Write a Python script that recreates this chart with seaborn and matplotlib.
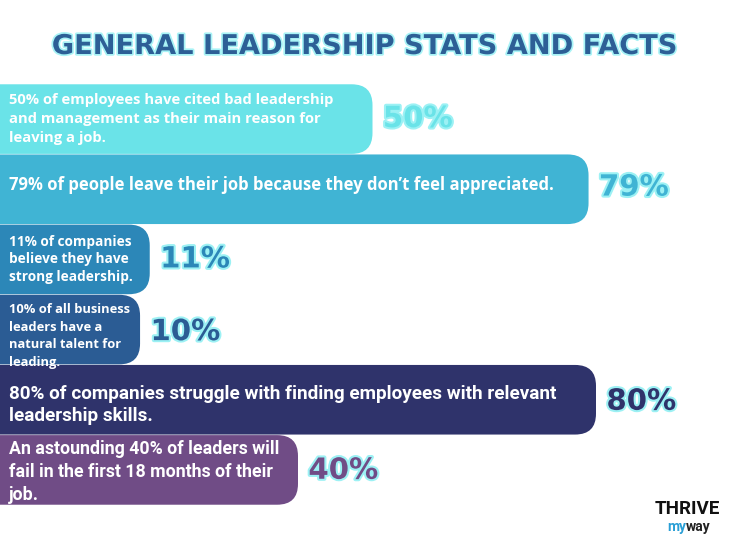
"""Leadership stats infographic: rounded horizontal bars with captions."""

import matplotlib
matplotlib.use("Agg")
import matplotlib.pyplot as plt
import matplotlib.patheffects as pe
from matplotlib.patches import FancyBboxPatch
import seaborn as sns

categories = ["bad_mgmt", "not_appreciated", "strong_leaders", "natural_talent",
              "skills_gap", "fail_18m"]
values = [50, 79, 11, 10, 80, 40]
# visible bar length (in % units) as drawn in the picture; short bars padded to fit text
bar_length = [50, 79, 20.1, 18.8, 80, 40]
captions = [
    "50% of employees have cited bad leadership\nand management as their main reason for\nleaving a job.",
    "79% of people leave their job because they don\u2019t feel appreciated.",
    "11% of companies\nbelieve they have\nstrong leadership.",
    "10% of all business\nleaders have a\nnatural talent for\nleading.",
    "80% of companies struggle with finding employees with relevant\nleadership skills.",
    "An astounding 40% of leaders will\nfail in the first 18 months of their\njob.",
]
colors = ["#6ae3e8", "#40b4d4", "#2c87b8", "#2b5c94", "#2f336b", "#704c86"]

W, H = 730, 536
fig = plt.figure(figsize=(W / 100, H / 100), dpi=100)
fig.patch.set_facecolor("white")
ax = fig.add_axes([0, (H - 505) / H, 1, (505 - 84) / H])

sns.barplot(x=bar_length, y=categories, hue=categories, palette=colors,
            orient="h", width=1.0, saturation=1, legend=False, ax=ax)

px_per_x = 7.45
ax.set_xlim(0, W / px_per_x)
ax.set_ylim(5.5, -0.5)
ax.axis("off")

# swap the plain bars for ones with rounded right ends
row_px = (505 - 84) / 6
aspect = px_per_x / row_px
for p in list(ax.patches):
    x0, y0 = p.get_x(), p.get_y()
    w, h = p.get_width(), p.get_height()
    fc = p.get_facecolor()
    p.remove()
    ax.add_patch(FancyBboxPatch((x0 - 6, y0 + 0.004), w + 6, h - 0.008,
                                boxstyle="round,pad=0,rounding_size=2.8",
                                mutation_aspect=aspect, facecolor=fc,
                                edgecolor="none"))

narrow = ["Liberation Sans Narrow", "Roboto"]
text_style = [
    dict(fontsize=10.6, family="Open Sans", linespacing=1.45),
    dict(fontsize=12.0, family="Open Sans", linespacing=1.45),
    dict(fontsize=9.8, family="Open Sans", linespacing=1.3),
    dict(fontsize=9.3, family="Open Sans", linespacing=1.45),
    dict(fontsize=13.6, family=narrow, linespacing=1.3),
    dict(fontsize=12.8, family=narrow, linespacing=1.35),
]
y_shift = [0, -0.06, 0, 0.09, 0.07, 0.03]
for i, (cap, val, ln) in enumerate(zip(captions, values, bar_length)):
    ax.text(1.2, i + y_shift[i], cap, color="white", fontweight="bold",
            ha="left", va="center", **text_style[i])
    ax.text(ln + 1.4, i + y_shift[i] * 0.4, f"{val}%", color=colors[i],
            fontsize=21, fontweight="bold", family="DejaVu Sans",
            ha="left", va="center",
            path_effects=[pe.withStroke(linewidth=3, foreground="#9cf1f4")])

fig.text(0.5, 1 - 47 / H, "GENERAL LEADERSHIP STATS AND FACTS",
         ha="center", va="center", fontsize=19.6, fontweight="bold",
         family="DejaVu Sans", color="#2d5f96",
         path_effects=[pe.withStroke(linewidth=2.5, foreground="#a8f3f6")])

# logo
fig.text(687 / W, 1 - 509 / H, "THRIVE", ha="center", va="center",
         fontsize=13.5, fontweight="bold", family=narrow, color="#111111")
fig.text(686 / W, 1 - 527 / H, "my", ha="right", va="center",
         fontsize=10, fontweight="bold", family=narrow, color="#2a9fd6")
fig.text(686 / W, 1 - 527 / H, "way", ha="left", va="center",
         fontsize=10, fontweight="bold", family=narrow, color="#222222")

fig.savefig("out.png", dpi=100)
plt.close(fig)
